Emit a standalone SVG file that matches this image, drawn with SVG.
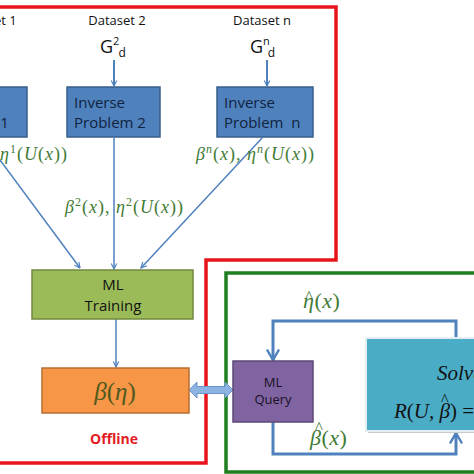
<svg xmlns="http://www.w3.org/2000/svg" width="474" height="474" viewBox="0 0 474 474">
<defs>
<marker id="v" viewBox="0 0 10 10" refX="9" refY="5" markerWidth="7" markerHeight="7" markerUnits="userSpaceOnUse" orient="auto">
<path d="M1,1 L9,5 L1,9" fill="none" stroke="#4f81bd" stroke-width="1.6"/>
</marker>
<marker id="vb" viewBox="0 0 10 10" refX="8" refY="5" markerWidth="5" markerHeight="5" orient="auto">
<path d="M1,1 L8,5 L1,9" fill="none" stroke="#4f81bd" stroke-width="1.6"/>
</marker>
<style>
.sans{font-family:"Open Sans","Liberation Sans",sans-serif;}
.ds{font-size:13px;fill:#111;text-anchor:middle;}
.g{font-size:18px;fill:#111;}
.ip rect{fill:#4f81bd;stroke:#385d8a;stroke-width:1.5;}
.ip text{font-size:15px;fill:#10233f;}
.math{font-family:"Liberation Serif","DejaVu Serif",serif;font-style:italic;fill:#3f7a35;}
.lbl{font-size:18px;letter-spacing:1px;}
.up{font-style:normal;}
.hat{font-family:"Liberation Serif","DejaVu Serif",serif;font-style:normal;}
.conn line,.conn polyline{stroke:#4f81bd;fill:none;}
</style>
</defs>
<rect width="474" height="474" fill="#fff"/>
<!-- frames -->
<polyline points="-5,7 336,7 336,260 206,260 206,463 -5,463" fill="none" stroke="#e8141c" stroke-width="3.5"/>
<rect x="226" y="273" width="260" height="199" fill="none" stroke="#1f7f1f" stroke-width="3.5"/>
<!-- dataset labels -->
<g id="dataset1"><text class="sans ds" x="-12" y="25">Dataset 1</text>
<text class="sans g" x="-30" y="53" style="fill:#aaa">G<tspan font-size="11" dy="-8">1</tspan><tspan font-size="12" dy="12">d</tspan></text></g>
<g id="dataset2"><text class="sans ds" x="117" y="25">Dataset 2</text>
<text class="sans g" x="100" y="53">G<tspan font-size="11" dy="-8">2</tspan><tspan font-size="12" dy="12" dx="-1">d</tspan></text></g>
<g id="datasetn"><text class="sans ds" x="262" y="25">Dataset n</text>
<text class="sans g" x="250" y="53">G<tspan font-size="11" dy="-8">n</tspan><tspan font-size="12" dy="12" dx="-2">d</tspan></text></g>
<!-- inverse problems -->
<g id="ip1" class="ip"><rect x="-70" y="87" width="97" height="50"/><text class="sans" x="-63" y="108">Inverse</text><text class="sans" x="-63" y="128">Problem 1</text></g>
<g id="ip2" class="ip"><rect x="67" y="87" width="93" height="50"/><text class="sans" x="74" y="108">Inverse</text><text class="sans" x="74" y="128">Problem 2</text></g>
<g id="ipn" class="ip"><rect x="217" y="87" width="96" height="50"/><text class="sans" x="224" y="108">Inverse</text><text class="sans" x="224" y="128">Problem&#160; n</text></g>
<!-- connectors -->
<g id="connectors" class="conn">
<line x1="114" y1="60" x2="114" y2="86" stroke-width="2" marker-end="url(#v)"/>
<line x1="267" y1="60" x2="267" y2="86" stroke-width="2" marker-end="url(#v)"/>
<line x1="114" y1="137" x2="114" y2="269" stroke-width="1.5" marker-end="url(#v)"/>
<line x1="-17" y1="137" x2="80" y2="268" stroke-width="1.5" marker-end="url(#v)"/>
<line x1="263" y1="137" x2="141" y2="268" stroke-width="1.5" marker-end="url(#v)"/>
<line x1="116" y1="319" x2="116" y2="367" stroke-width="1.5" marker-end="url(#v)"/>
<polyline points="456,337 456,321 273,321 273,360" stroke-width="3" marker-end="url(#vb)"/>
<polyline points="273,422 273,454 456,454 456,433" stroke-width="3" marker-end="url(#vb)"/>
<path d="M189,390 L197,382 L197,386.5 L225,386.5 L225,382 L233,390 L225,398 L225,393.5 L197,393.5 L197,398 Z" fill="#8db3e2" stroke="#6d95c9" stroke-width="1"/>
</g>
<!-- math labels -->
<text class="math lbl" x="68" y="160" text-anchor="end">β<tspan class="up" font-size="12" dy="-7">1</tspan><tspan class="up" dy="7">(</tspan>x<tspan class="up">),</tspan> η<tspan class="up" font-size="12" dy="-7">1</tspan><tspan class="up" dy="7">(</tspan>U<tspan class="up">(</tspan>x<tspan class="up">))</tspan></text>
<text class="math lbl" x="65" y="213">β<tspan class="up" font-size="12" dy="-7">2</tspan><tspan class="up" dy="7">(</tspan>x<tspan class="up">),</tspan> η<tspan class="up" font-size="12" dy="-7">2</tspan><tspan class="up" dy="7">(</tspan>U<tspan class="up">(</tspan>x<tspan class="up">))</tspan></text>
<text class="math lbl" x="196" y="160">β<tspan font-size="12" dy="-7">n</tspan><tspan class="up" dy="7">(</tspan>x<tspan class="up">),</tspan> η<tspan font-size="12" dy="-7">n</tspan><tspan class="up" dy="7">(</tspan>U<tspan class="up">(</tspan>x<tspan class="up">))</tspan></text>
<!-- ML training -->
<g id="mltraining"><rect x="32" y="270" width="161" height="49" fill="#9bbb59" stroke="#71893f" stroke-width="1.5"/>
<text class="sans" x="113" y="290" font-size="15" text-anchor="middle" fill="#111">ML</text>
<text class="sans" x="113" y="311" font-size="15" text-anchor="middle" fill="#111">Training</text></g>
<!-- beta(eta) -->
<g id="beta"><rect x="42" y="368" width="147" height="45" fill="#f79646" stroke="#b66d31" stroke-width="1.5"/>
<text class="math" x="115" y="400" font-size="25" text-anchor="middle" style="fill:#4f5a1e">β<tspan class="up">(</tspan>η<tspan class="up">)</tspan></text></g>
<g id="offline"><text class="sans" x="114" y="444" font-size="14" font-weight="bold" text-anchor="middle" fill="#e31b23">Offline</text></g>
<!-- ML query -->
<g id="mlquery"><rect x="233" y="361" width="80" height="61" fill="#8064a2" stroke="#5c4776" stroke-width="1.5"/>
<text class="sans" x="273" y="387" font-size="13" text-anchor="middle" fill="#1a1024">ML</text>
<text class="sans" x="273" y="404" font-size="13" text-anchor="middle" fill="#1a1024">Query</text></g>
<g id="etahat">
<text class="math" x="303" y="308" font-size="22" letter-spacing="0.5">η<tspan class="up">(</tspan>x<tspan class="up">)</tspan></text>
<text class="hat" x="305" y="302" font-size="17" style="fill:#3f7a35">^</text></g>
<g id="betahat">
<text class="math" x="310" y="445" font-size="22" letter-spacing="0.5">β<tspan class="up">(</tspan>x<tspan class="up">)</tspan></text>
<text class="hat" x="315" y="433" font-size="17" style="fill:#3f7a35">^</text></g>
<!-- solver -->
<g id="solver"><rect x="368" y="340" width="120" height="93" fill="#c8ccd0"/>
<rect x="366" y="338" width="120" height="93" fill="#4bacc6" stroke="#e4eef2" stroke-width="2"/>
<text class="math" x="437" y="380" font-size="21" style="fill:#111">Solve</text>
<text class="math" x="394" y="418" font-size="21" style="fill:#111">R<tspan class="up">(</tspan>U, β<tspan class="up">) = 0</tspan></text>
<text class="hat" x="441" y="405" font-size="16" style="fill:#111">^</text></g>
</svg>
